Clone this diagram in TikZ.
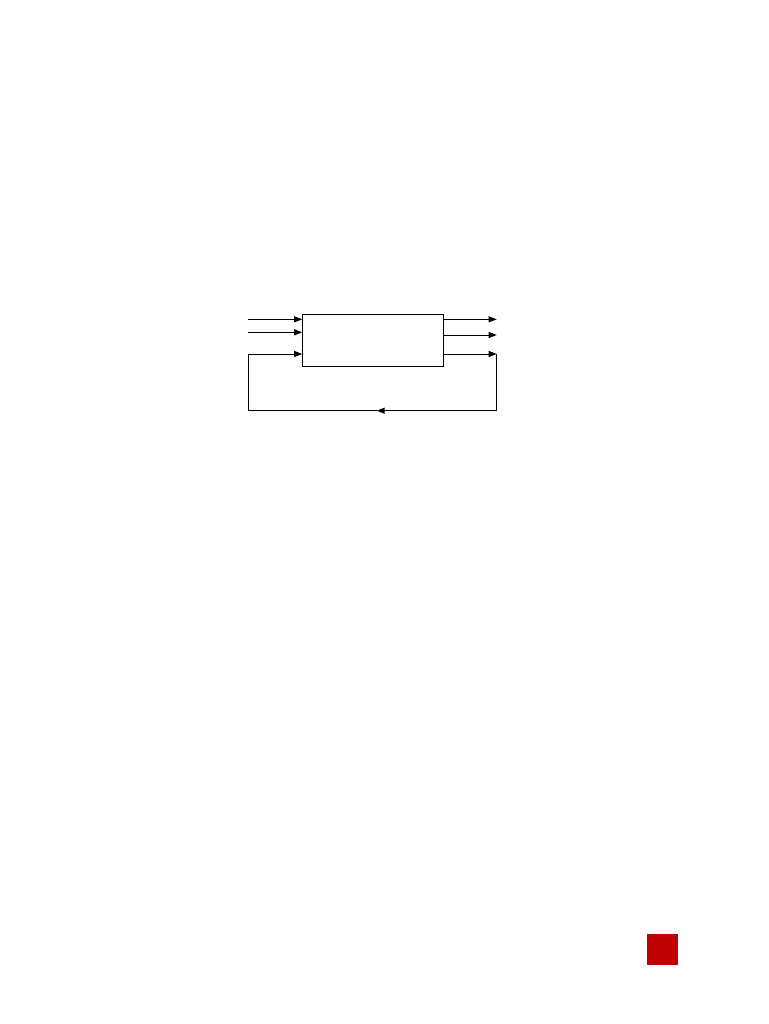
\documentclass[tikz,border=0pt]{standalone}
\usetikzlibrary{arrows.meta}
\usetikzlibrary{calc}
\tikzset{every picture/.style={line width=0.75pt}}
\tikzset{flow/.style={-{Triangle[length=6pt,width=4.5pt]}}}
\definecolor{cornerred}{RGB}{192,0,0}

\begin{document}
\begin{tikzpicture}[x=0.75pt,y=0.75pt,yscale=-1,xscale=1]
\useasboundingbox (0,0) rectangle (768,1024);

%Rect: the process block
\node [draw, inner sep=0pt, minimum width=105.45pt, minimum height=38.8pt] (block) at (373,340.2) {};

%end points of the lines
\coordinate (inA) at (248.3,319.3);
\coordinate (inB) at (248.3,332.3);
\coordinate (outA) at (496.7,319.3);
\coordinate (outB) at (496.7,335);
\coordinate (outC) at (496.7,354);
\coordinate (backR) at (496.7,410.7);
\coordinate (backM) at (376.7,410.7);
\coordinate (backL) at (248.3,410.7);
\coordinate (backU) at (248.3,354);

%Straight Lines: inputs
\draw [flow] (inA) -- (inA -| block.west);
\draw [flow] (inB) -- (inB -| block.west);
%Straight Lines: outputs
\draw [flow] (outA -| block.east) -- (outA);
\draw [flow] (outB -| block.east) -- (outB);
\draw [flow] (outC -| block.east) -- (outC);
%Feedback loop
\draw [flow] (outC) -- (backR) -- (backM);
\draw [flow] (backM) -- (backL) -- (backU) -- (backU -| block.west);

%Shape: red square in the corner
\fill [cornerred] (647.3,934) rectangle (678.3,965);

\end{tikzpicture}
\end{document}
